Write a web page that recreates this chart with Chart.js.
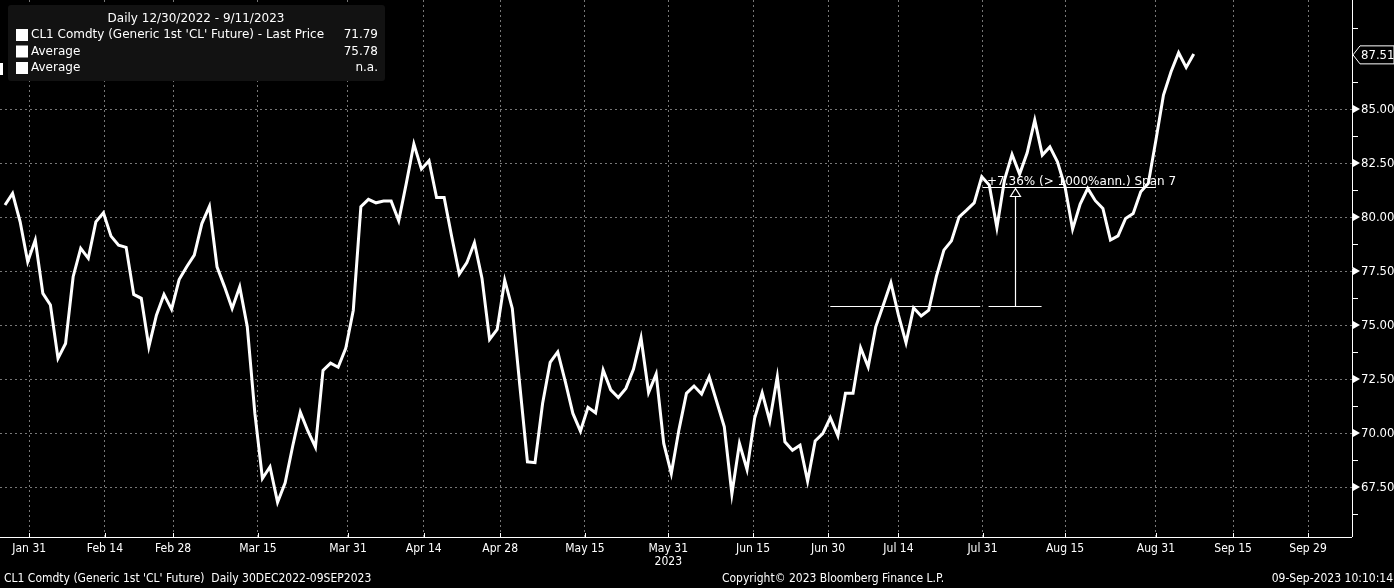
<!DOCTYPE html>
<html>
<head>
<meta charset="utf-8">
<script src="https://cdn.jsdelivr.net/npm/chart.js@4/dist/chart.umd.min.js"></script>
<style>
  html, body { margin: 0; padding: 0; background: #000; }
  #wrap { width: 1394px; height: 588px; position: relative; }
</style>
</head>
<body>
<div id="wrap"><canvas id="myChart" width="1394" height="588"></canvas></div>
<script>
// CL1 Comdty last price, one value per trading day (27 Jan - 8 Sep 2023)
const prices = [
  80.56, 81.10, 79.78, 77.93, 78.94, 76.47, 75.93, 73.46, 74.15, 77.24,
  78.55, 78.09, 79.78, 80.20, 79.12, 78.70, 78.60, 76.42, 76.24, 74.00,
  75.46, 76.42, 75.73, 77.11, 77.70, 78.24, 79.70, 80.50, 77.70, 76.77,
  75.77, 76.77, 74.92, 70.91, 67.90, 68.44,
  66.80, 67.70, 69.40, 70.97, 70.10, 69.35, 72.90, 73.24, 73.05,
  73.92, 75.69, 80.48, 80.82, 80.66, 80.74, 80.74, 79.83, 81.56, 83.38,
  82.22, 82.61, 80.91, 80.91, 79.09, 77.36, 77.89, 78.81, 77.16, 74.34,
  74.80, 77.08, 75.77, 72.18, 68.67, 68.63, 71.37, 73.27, 73.76, 72.38,
  70.91, 70.09, 71.19, 70.94, 72.92, 72.00, 71.65, 72.07, 72.95, 74.41,
  71.88, 72.73, 69.52, 68.13, 70.14, 71.84, 72.18,
  71.81, 72.61, 71.45, 70.29, 67.18, 69.52, 68.32, 70.68, 71.87, 70.56,
  72.61, 69.60, 69.21, 69.44, 67.78, 69.64, 69.98, 70.71, 69.88, 71.84,
  71.84, 73.95, 73.07, 74.92, 75.93, 76.96, 75.46, 74.18, 75.80, 75.42,
  75.69, 77.24, 78.47, 78.90, 80.00,
  80.32, 80.66, 81.87, 81.48, 79.52, 81.71, 82.90, 81.99, 82.98, 84.49,
  82.87, 83.25, 82.56, 81.40, 79.44, 80.60, 81.33, 80.76, 80.40, 78.94,
  79.13, 79.94, 80.17, 81.17, 81.56, 83.56, 85.65, 86.73, 87.61, 86.93,
  87.55
];

// date ticks, as trading-day positions on the axis
const dateLabels = ['Jan 31', 'Feb 14', 'Feb 28', 'Mar 15', 'Mar 31', 'Apr 14', 'Apr 28', 'May 15',
  'May 31', 'Jun 15', 'Jun 30', 'Jul 14', 'Jul 31', 'Aug 15', 'Aug 31', 'Sep 15', 'Sep 29'];
const dateTickPos = [3.2, 13.2, 22.2, 33.4, 45.3, 55.3, 65.4, 76.6, 87.6, 98.8, 108.7, 118.0,
  129.1, 140.0, 152.0, 162.2, 172.1];
const priceTicks = [67.5, 70, 72.5, 75, 77.5, 80, 82.5, 85];
const lastPrice = 87.51;

// legend rows: label, value
const legendRows = [
  ["CL1 Comdty (Generic 1st 'CL' Future) - Last Price", '71.79'],
  ['Average', '75.78'],
  ['Average', 'n.a.']
];

// price-change study drawn on the chart (span 7)
const study = { fromIdx: 126.4, toIdx: 133.4, low: 75.88, high: 81.4, text: '+7.36% (> 1000%ann.) Span 7' };

const NARROW = '"Liberation Sans Narrow", "DejaVu Sans Condensed", "Roboto Condensed", sans-serif';
const LEGFONT = '"DejaVu Sans", "Noto Sans", sans-serif';

const overlay = {
  id: 'overlay',
  afterDraw(chart) {
    const c = chart.ctx, x = chart.scales.x, y = chart.scales.y, a = chart.chartArea;
    c.save();
    // right axis
    c.strokeStyle = '#fff'; c.lineWidth = 1;
    c.beginPath(); c.moveTo(a.right + 0.5, 0); c.lineTo(a.right + 0.5, a.bottom); c.stroke();
    c.beginPath(); c.moveTo(0, a.bottom + 0.5); c.lineTo(a.right, a.bottom + 0.5); c.stroke();
    for (let v = 66.25; v <= 88.75; v += 1.25) {
      const py = Math.round(y.getPixelForValue(v)) + 0.5;
      c.beginPath(); c.moveTo(a.right, py); c.lineTo(a.right + 6, py); c.stroke();
    }
    c.fillStyle = '#fff'; c.font = '13px ' + NARROW; c.textBaseline = 'middle'; c.textAlign = 'left';
    priceTicks.forEach(v => {
      const py = y.getPixelForValue(v);
      c.beginPath(); c.moveTo(a.right + 1, py - 4); c.lineTo(a.right + 8, py); c.lineTo(a.right + 1, py + 4); c.fill();
      c.fillText(v.toFixed(2), a.right + 9, py + 1);
    });
    // last price tag
    const ly = y.getPixelForValue(lastPrice);
    c.fillStyle = '#000'; c.strokeStyle = '#fff';
    c.beginPath();
    c.moveTo(a.right + 1, ly); c.lineTo(a.right + 8, ly - 9); c.lineTo(1394, ly - 9);
    c.lineTo(1394, ly + 9); c.lineTo(a.right + 8, ly + 9); c.closePath();
    c.fill(); c.stroke();
    c.fillStyle = '#fff'; c.fillText(lastPrice.toFixed(2), a.right + 9, ly + 1);
    // bottom labels
    c.textAlign = 'center'; c.font = '12px ' + NARROW;
    dateLabels.forEach((t, i) => c.fillText(t, x.getPixelForValue(dateTickPos[i]), 549));
    for (const p of dateTickPos) {
      const px = Math.round(x.getPixelForValue(p)) + 0.5;
      c.beginPath(); c.moveTo(px, a.bottom); c.lineTo(px, a.bottom - 4); c.stroke();
    }
    c.fillText('2023', x.getPixelForValue(dateTickPos[8]), 562);
    c.textAlign = 'left'; c.fillText("CL1 Comdty (Generic 1st 'CL' Future)  Daily 30DEC2022-09SEP2023", 4, 579);
    c.textAlign = 'center'; c.fillText('Copyright\u00A9 2023 Bloomberg Finance L.P.', 833, 579);
    c.textAlign = 'right'; c.fillText('09-Sep-2023 10:10:14', 1393, 579);
    // study
    const yl = Math.round(y.getPixelForValue(study.low)) + 0.5, yh = Math.round(y.getPixelForValue(study.high)) + 0.5;
    const xf = x.getPixelForValue(study.fromIdx), xt = Math.round(x.getPixelForValue(study.toIdx)) + 0.5;
    c.strokeStyle = '#fff'; c.lineWidth = 1.2;
    c.beginPath();
    c.moveTo(x.getPixelForValue(109.0), yl); c.lineTo(x.getPixelForValue(128.8), yl);
    c.moveTo(x.getPixelForValue(129.9), yl); c.lineTo(x.getPixelForValue(136.9), yl);
    c.moveTo(x.getPixelForValue(129.1), yh); c.lineTo(x.getPixelForValue(152.0), yh);
    c.moveTo(xt, yl); c.lineTo(xt, yh + 9);
    c.stroke();
    c.beginPath(); c.moveTo(xt, yh + 1); c.lineTo(xt - 5, yh + 9); c.lineTo(xt + 5, yh + 9); c.closePath();
    c.fillStyle = '#000'; c.fill(); c.stroke();
    c.fillStyle = '#fff'; c.font = '12px ' + LEGFONT; c.textAlign = 'left'; c.textBaseline = 'alphabetic';
    c.fillText(study.text, x.getPixelForValue(129.7), yh - 3);
    // legend box
    c.fillStyle = '#121212';
    c.beginPath(); c.roundRect(8, 5, 377, 76, 3); c.fill();
    c.fillStyle = '#fff'; c.font = '12px ' + LEGFONT; c.textBaseline = 'middle';
    c.textAlign = 'center'; c.fillText('Daily 12/30/2022 - 9/11/2023', 196, 19);
    legendRows.forEach(([t, v], i) => {
      const ry = 35 + i * 16.5;
      c.fillRect(16, ry - 6, 12, 12);
      c.textAlign = 'left'; c.fillText(t, 31, ry);
      c.textAlign = 'right'; c.fillText(v, 378, ry);
    });
    c.fillRect(0, 63, 3, 12);
    c.restore();
  }
};

const ctx = document.getElementById('myChart').getContext('2d');
const priceChart = new Chart(ctx, {
  type: 'line',
  data: {
    datasets: [{
      data: prices.map((v, i) => ({ x: i, y: v })),
      borderColor: '#fff', borderWidth: 3, pointRadius: 0, tension: 0, fill: false
    }]
  },
  options: {
    responsive: false, animation: false, events: [],
    layout: { padding: { left: 0, top: 0, right: 42, bottom: 51 } },
    plugins: { legend: { display: false }, tooltip: { enabled: false } },
    scales: {
      x: {
        type: 'linear', min: -0.66, max: 177.9,
        afterBuildTicks: s => { s.ticks = dateTickPos.map(v => ({ value: v })); },
        ticks: { display: false },
        grid: { color: '#777', lineWidth: 1, drawTicks: false, tickBorderDash: [2, 3] },
        border: { display: false, dash: [2, 3] }
      },
      y: {
        position: 'right', min: 65.19, max: 90.05,
        afterBuildTicks: s => { s.ticks = priceTicks.map(v => ({ value: v })); },
        ticks: { display: false },
        grid: { color: '#777', lineWidth: 1, drawTicks: false },
        border: { display: false, dash: [2, 3] }
      }
    }
  },
  plugins: [overlay]
});
</script>
</body>
</html>
